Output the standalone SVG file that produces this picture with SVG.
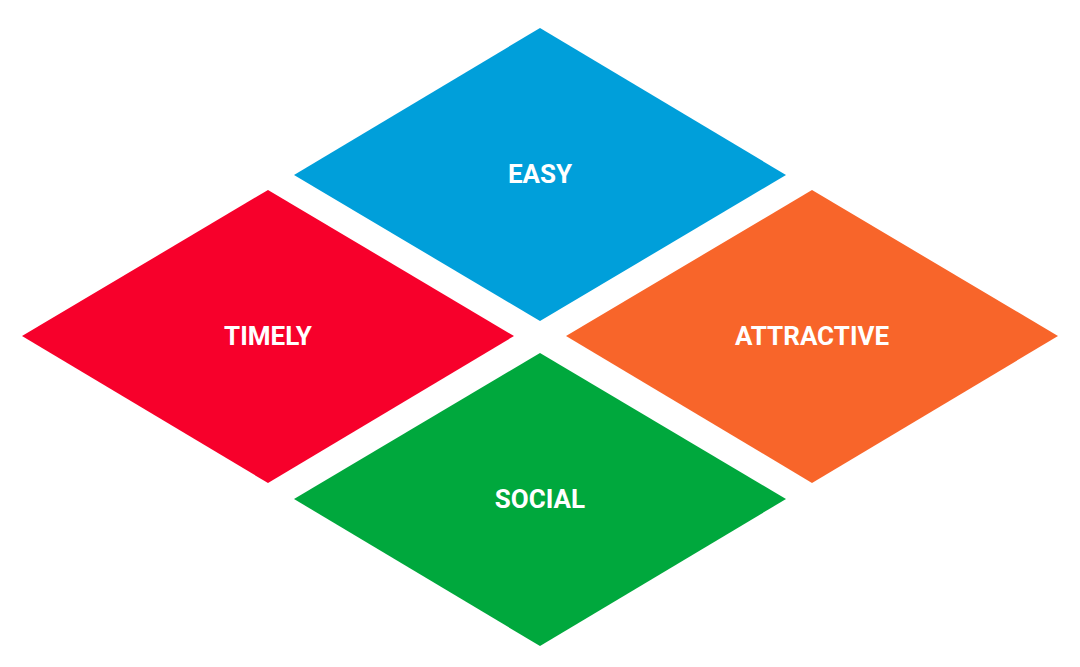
<svg xmlns="http://www.w3.org/2000/svg" width="1080" height="667" viewBox="0 0 1080 667">
<style>
text{font-family:Roboto,"Liberation Sans",sans-serif;font-weight:bold;font-size:26px;fill:#fff;text-anchor:middle;dominant-baseline:central}
</style>
<rect width="1080" height="667" fill="#fff"/>
<g id="easy"><polygon points="540,28 786,175 540,321 294,175" fill="#009FDA"/><text x="540" y="174">EASY</text></g>
<g id="timely"><polygon points="268,190 514,336 268,483 22,336" fill="#F7002B"/><text x="268" y="336">TIMELY</text></g>
<g id="attractive"><polygon points="812,190 1058,336 812,483 566,336" fill="#F8652A"/><text x="812" y="336">ATTRACTIVE</text></g>
<g id="social"><polygon points="540,353 786,499 540,646 294,499" fill="#00A83D"/><text x="540" y="499">SOCIAL</text></g>
<g id="connectors"/>
</svg>
